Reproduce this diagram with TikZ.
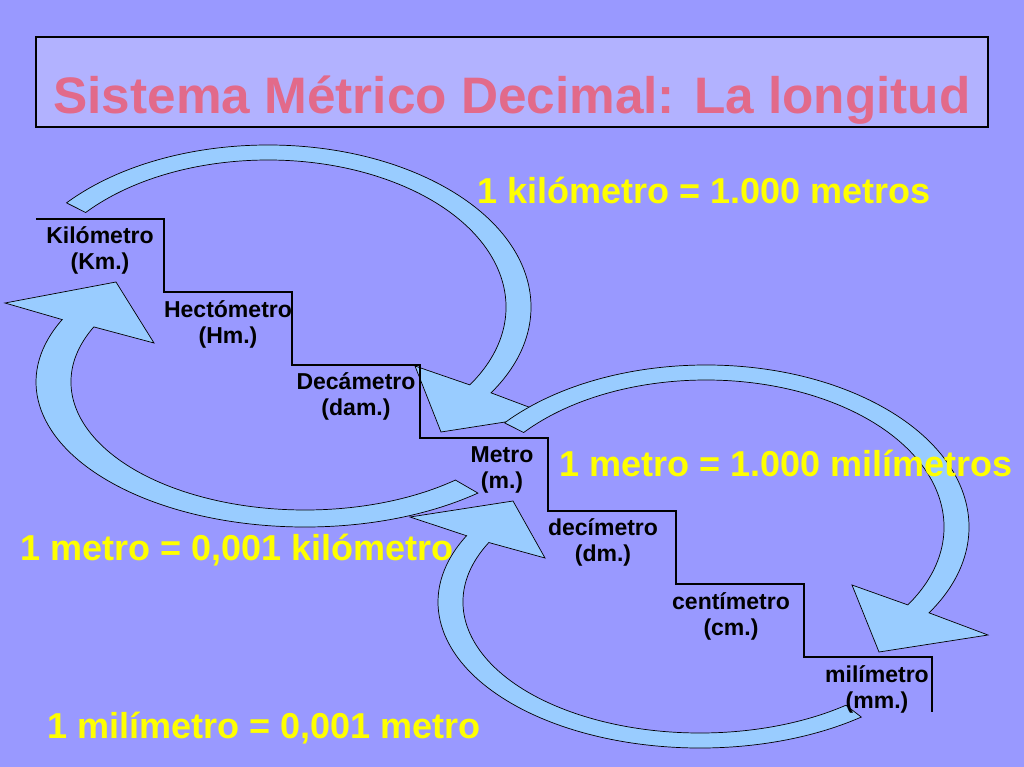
\documentclass[tikz,border=0pt]{standalone}
\usepackage{fontspec}
\setmainfont{Liberation Sans}
\usetikzlibrary{calc}
\definecolor{fondo}{RGB}{153,153,255}
\definecolor{cabecera}{RGB}{178,178,255}
\definecolor{rosa}{RGB}{226,106,138}
\definecolor{celeste}{RGB}{153,204,255}
\definecolor{amarillo}{RGB}{255,255,0}
\begin{document}
\begin{tikzpicture}[x=0.02cm,y=0.02cm,
  flecha/.style={draw=black,fill=celeste,line width=0.4pt},
  unidad/.style={font=\fontsize{13.1}{14.8}\selectfont\bfseries,align=center,inner sep=0pt},
  igualdad/.style={font=\fontsize{20.5}{24}\selectfont\bfseries,text=amarillo,inner sep=0pt,anchor=base}]
\useasboundingbox (0,0) rectangle (1024,-767);
\fill[fondo] (0,0) rectangle (1024,-767);
\draw[fill=cabecera,line width=0.6pt] (36,-37) rectangle (988,-127);
\node[font=\fontsize{29.2}{34}\selectfont\bfseries,text=rosa,inner sep=0pt,anchor=base] (titulo) at (512,-113) {Sistema Métrico Decimal: La longitud};
\coordinate (o1) at (268,-307);
\coordinate (o2) at (305,-382);
\coordinate (o3) at (706,-527);
\coordinate (o4) at (700,-602);
% flechas
\draw[flecha] ($(o1)+(140:263 and 162)$) arc[start angle=140,end angle=-32,x radius=263,y radius=162]
  -- (550,-415) -- (441,-432) -- (415,-366) -- ($(o1)+(-32:238 and 147)$)
  arc[start angle=-32,end angle=140,x radius=238,y radius=147] -- cycle;
\draw[flecha] ($(o3)+(140:263 and 162)$) arc[start angle=140,end angle=-32,x radius=263,y radius=162]
  -- (988,-635) -- (879,-652) -- (852,-585) -- ($(o3)+(-32:238 and 147)$)
  arc[start angle=-32,end angle=140,x radius=238,y radius=147] -- cycle;
\draw[flecha] ($(o4)+(-52:262 and 146)$) arc[start angle=-52,end angle=-207,x radius=262,y radius=146]
  -- (410,-517) -- (513,-501) -- (545,-558) -- ($(o4)+(-207:237 and 131)$)
  arc[start angle=-207,end angle=-52,x radius=237,y radius=131] -- cycle;
\draw[flecha] ($(o2)+(-50:269 and 145)$) arc[start angle=-50,end angle=-205.5,x radius=269,y radius=145]
  -- (5,-303) -- (116,-282) -- (154,-343) -- ($(o2)+(-205.5:234 and 128)$)
  arc[start angle=-205.5,end angle=-50,x radius=234,y radius=128] -- cycle;
% escalera
\draw[line width=0.6pt] (36,-219) -- (164,-219) -- (164,-292) -- (292,-292) -- (292,-365)
  -- (420,-365) -- (420,-438) -- (548,-438) -- (548,-511) -- (676,-511) -- (676,-584)
  -- (804,-584) -- (804,-657) -- (932,-657) -- (932,-712);
\node[unidad] (km) at (100,-250) {Kilómetro\\(Km.)};
\node[unidad] (hm) at (228,-324) {Hectómetro\\(Hm.)};
\node[unidad] (dam) at (356,-396) {Decámetro\\(dam.)};
\node[unidad] (m) at (502,-470) {Metro\\(m.)};
\node[unidad] (dm) at (603,-542) {decímetro\\(dm.)};
\node[unidad] (cm) at (731,-616) {centímetro\\(cm.)};
\node[unidad] (mm) at (877,-689) {milímetro\\(mm.)};
\node[igualdad] (kmm) at (704,-203) {1 kilómetro = 1.000 metros};
\node[igualdad] (mmm) at (786,-476) {1 metro = 1.000 milímetros};
\node[igualdad] (mkm) at (237,-560) {1 metro = 0,001 kilómetro};
\node[igualdad] (mmmt) at (264,-738) {1 milímetro = 0,001 metro};
\end{tikzpicture}
\end{document}
